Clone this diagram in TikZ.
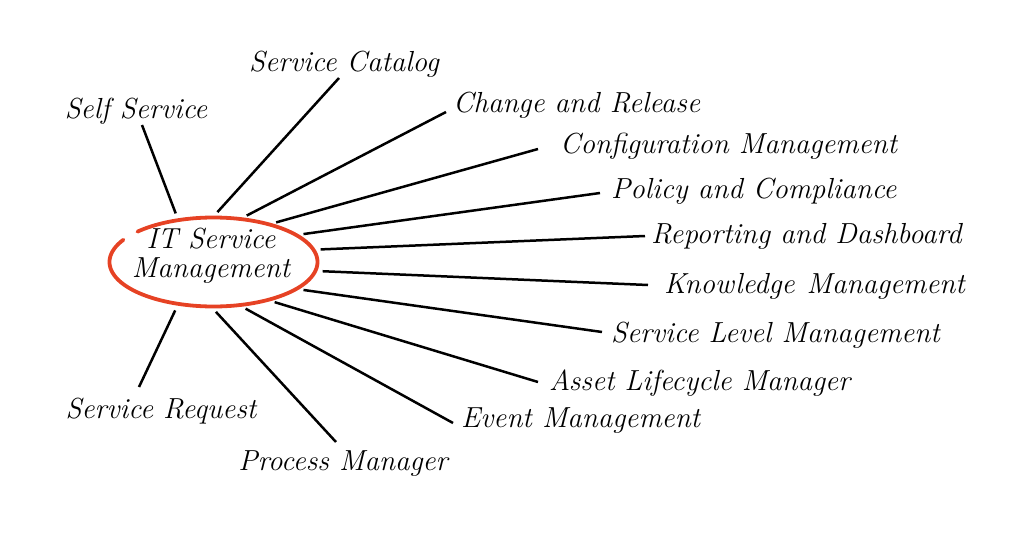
\documentclass[tikz,border=0pt]{standalone}
\usepackage{fontspec}
\usetikzlibrary{shapes.geometric}
\definecolor{ringred}{RGB}{230,66,36}
\begin{document}
\begin{tikzpicture}[x=1pt,y=-1pt,
  lbl/.style={font=\fontsize{29}{25}\selectfont\itshape, inner sep=0pt},
  spoke/.style={line width=2.5pt, black, shorten <=7pt},
  ring/.style={draw=ringred, line width=3.8pt, line cap=round}]
\useasboundingbox (0,0) rectangle (1023,543);
% hub
\node[ellipse, minimum width=208pt, minimum height=89pt, inner sep=0pt] (c) at (213.5,262) {};
\draw[ring] plot[domain=137:-210, samples=140, smooth] ({213.5+104*cos(\x)}, {262-44.5*sin(\x)});
\node[lbl, anchor=base] (ct1) at (211,248) {IT Service};
\node[lbl, anchor=base] (ct2) at (211,277) {Management};
% labels
\node[lbl, anchor=base] (ss) at (136,118) {Self Service};
\node[lbl, anchor=base] (sc) at (344,72) {Service Catalog};
\node[lbl, anchor=base west] (cr) at (453,113) {Change and Release};
\node[lbl, anchor=base west] (cm) at (560,153) {Configuration Management};
\node[lbl, anchor=base west] (pc) at (611,198) {Policy and Compliance};
\node[lbl, anchor=base west] (rd) at (651,243) {Reporting and Dashboard};
\node[lbl, anchor=base west] (km) at (664,293) {Knowledge\hspace{12pt}Management};
\node[lbl, anchor=base west] (sl) at (611,342) {Service Level Management};
\node[lbl, anchor=base west] (al) at (549,390) {Asset Lifecycle Manager};
\node[lbl, anchor=base west] (em) at (461,427) {Event Management};
\node[lbl, anchor=base] (pm) at (343,470) {Process Manager};
\node[lbl, anchor=base] (sr) at (161,418) {Service Request};
% free ends of the spokes
\coordinate (ess) at (142,125);
\coordinate (esc) at (339,78);
\coordinate (ecr) at (446,112);
\coordinate (ecm) at (538,149);
\coordinate (epc) at (600,193);
\coordinate (erd) at (645,236);
\coordinate (ekm) at (648,285);
\coordinate (esl) at (602,332);
\coordinate (eal) at (538,382);
\coordinate (eem) at (453,423);
\coordinate (epm) at (336,442);
\coordinate (esr) at (139,387);
% spokes
\draw[spoke] (c.130) -- (ess);
\draw[spoke] (c.91) -- (esc);
\draw[spoke] (c.58) -- (ecr);
\draw[spoke] (c.34) -- (ecm);
\draw[spoke] (c.18.6) -- (epc);
\draw[spoke] (c.7.3) -- (erd);
\draw[spoke] (c.-5.2) -- (ekm);
\draw[spoke] (c.-18.4) -- (esl);
\draw[spoke] (c.-35) -- (eal);
\draw[spoke] (c.-59) -- (eem);
\draw[spoke] (c.-93) -- (epm);
\draw[spoke] (c.-130) -- (esr);
\end{tikzpicture}
\end{document}
